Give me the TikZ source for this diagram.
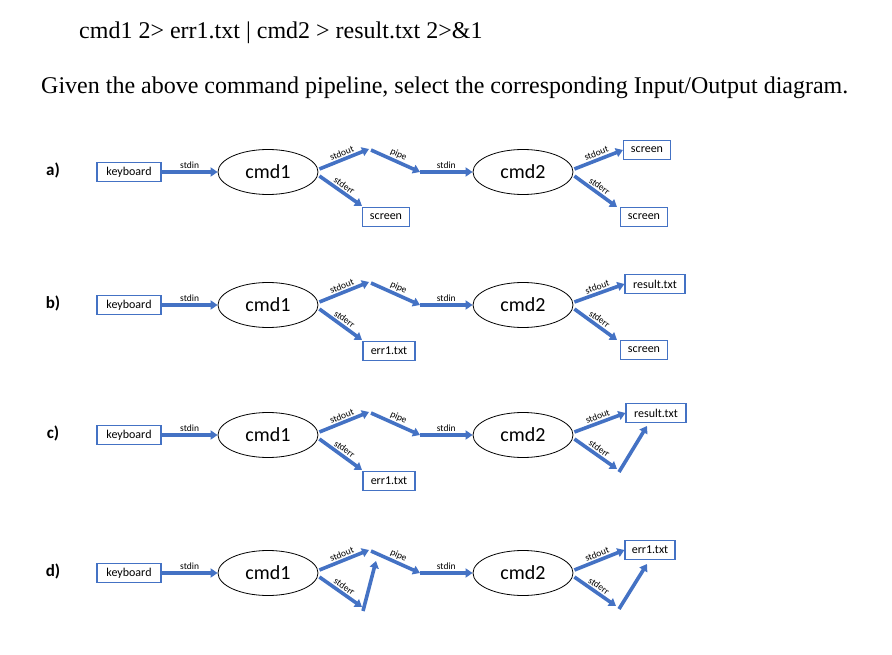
\documentclass[tikz,border=0pt]{standalone}
\usepackage{fontspec}
\setmainfont{Liberation Serif}
\newfontfamily\calfont{Carlito}
\usetikzlibrary{arrows.meta,shapes.geometric}
\definecolor{ab}{HTML}{4472C4}
\tikzset{
 ar/.style={draw=ab,line width=3.6pt,-{Triangle[length=7pt,width=9pt]}},
 lab/.style={font=\calfont\fontsize{9.5}{9.5}\selectfont,inner sep=1.5pt,sloped,above},
 bx/.style={draw=ab,line width=1.1pt,font=\calfont\fontsize{12}{12}\selectfont,minimum height=19pt,inner sep=3pt},
 el/.style={draw,ellipse,minimum width=100pt,minimum height=45pt,font=\calfont\fontsize{20}{20}\selectfont,line width=0.8pt},
 rl/.style={font=\calfont\bfseries\fontsize{17}{17}\selectfont}
}
\newcommand{\rowbase}[2]{%
 \node[rl] (#1l) at (53,#2-2) {#1)};
 \node[bx,minimum width=64pt] (#1k) at (129,#2) {keyboard};
 \node[el] (#1c1) at (268,#2) {cmd1};
 \node[el] (#1c2) at (523,#2) {cmd2};
 \coordinate (#1p1) at (369,#2-23);
 \draw[ar] (#1k.east) -- node[lab]{stdin} (#1c1.west);
 \draw[ar] (#1c1.east)++(1,-3) -- node[lab]{stdout} (#1p1);
 \draw[ar] (#1p1)++(2,1) -- node[lab]{pipe} (420,#2);
 \draw[ar] (420,#2) -- node[lab]{stdin} (#1c2.west);
}
\begin{document}
\begin{tikzpicture}[x=1pt,y=-1pt]
\useasboundingbox (0,0) rectangle (892,655);
\node[anchor=west,font=\fontsize{24}{24}\selectfont,inner sep=0pt] (t1) at (79,33) {cmd1 2> err1.txt | cmd2 > result.txt 2>\&1};
\node[anchor=west,font=\fontsize{24}{24}\selectfont,inner sep=0pt] (t2) at (41,88) {Given the above command pipeline, select the corresponding Input/Output diagram.};
% a
\rowbase{a}{172}
\node[bx,minimum width=47pt] (as1) at (386,217) {screen};
\node[bx,minimum width=47pt] (as2) at (647,150) {screen};
\node[bx,minimum width=47pt] (as3) at (644,217) {screen};
\draw[ar] (ac1.east)++(1,4) -- node[lab]{stderr} (362,206);
\draw[ar] (ac2.east)++(1,-3) -- node[lab]{stdout} (as2.west);
\draw[ar] (ac2.east)++(1,4) -- node[lab]{stderr} (617,207);
% b
\rowbase{b}{305}
\node[bx,minimum width=52pt] (be1) at (389,351) {err1.txt};
\node[bx,minimum width=60pt] (br1) at (655,284) {result.txt};
\node[bx,minimum width=47pt] (bs1) at (644,350) {screen};
\draw[ar] (bc1.east)++(1,4) -- node[lab]{stderr} (362,340);
\draw[ar] (bc2.east)++(1,-3) -- node[lab]{stdout} (br1.west);
\draw[ar] (bc2.east)++(1,4) -- node[lab]{stderr} (617,340);
% c
\rowbase{c}{435}
\node[bx,minimum width=52pt] (ce1) at (389,481) {err1.txt};
\node[bx,minimum width=60pt] (cr1) at (656,413) {result.txt};
\draw[ar] (cc1.east)++(1,4) -- node[lab]{stderr} (362,470);
\draw[ar] (cc2.east)++(1,-3) -- node[lab]{stdout} (cr1.west);
\coordinate (cq) at (617,469);
\draw[ar] (cc2.east)++(1,4) -- node[lab]{stderr} (cq);
\draw[ar] (619,472) -- (647,426);
% d
\rowbase{d}{573}
\node[bx,minimum width=50pt] (de1) at (650,550) {err1.txt};
\draw[ar] (dc1.east)++(1,4) -- node[lab]{stderr} (362,607);
\draw[ar] (363,611) -- (376,561);
\draw[ar] (dc2.east)++(1,-3) -- node[lab]{stdout} (de1.west);
\draw[ar] (dc2.east)++(1,4) -- node[lab]{stderr} (616,606);
\draw[ar] (619,609) -- (647,564);
\end{tikzpicture}
\end{document}
